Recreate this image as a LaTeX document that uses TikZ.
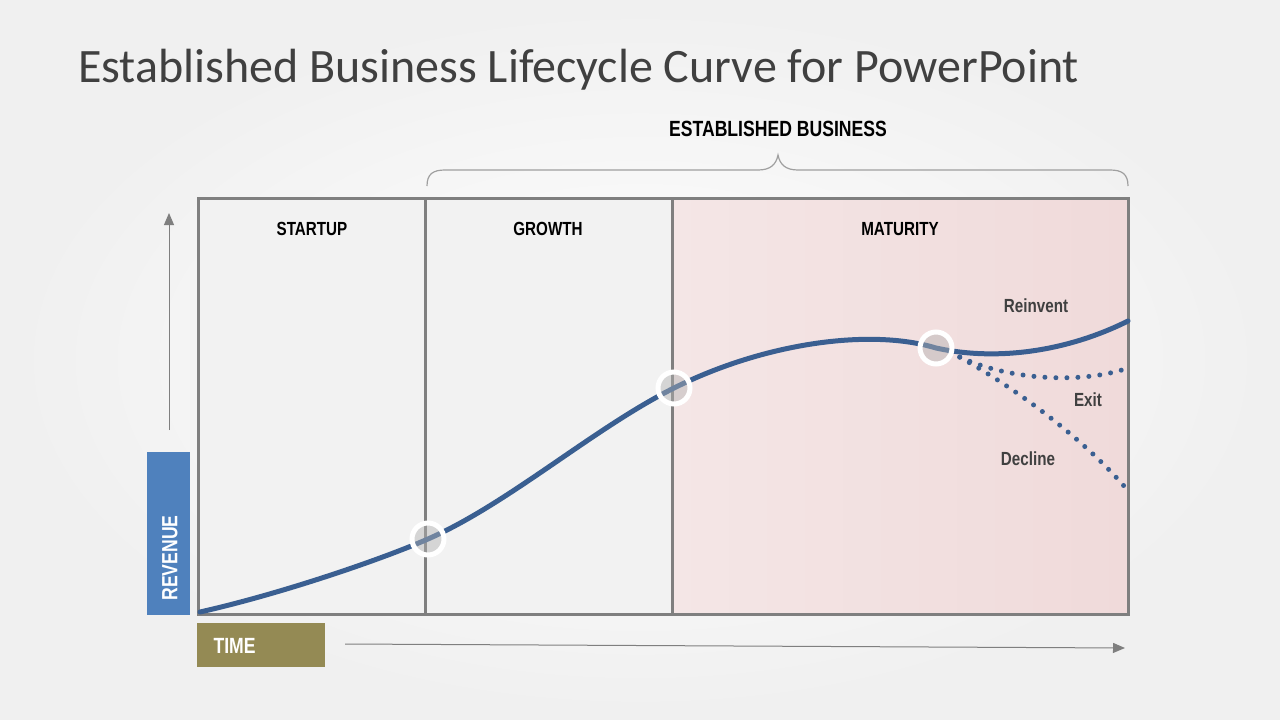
\documentclass[tikz,border=0pt]{standalone}
\usepackage{fontspec}
\setmainfont{Carlito}
\newfontfamily\condfont[FakeStretch=0.8,BoldFont={Liberation Sans Bold}]{Liberation Sans}
\usetikzlibrary{arrows.meta}

\definecolor{titlegray}{HTML}{404040}
\definecolor{framegray}{HTML}{7F7F7F}
\definecolor{curveblue}{HTML}{3A5F91}
\definecolor{revblue}{HTML}{4F81BD}
\definecolor{timeolive}{HTML}{948A54}
\definecolor{panelgray}{HTML}{F2F2F2}
\definecolor{pinkL}{HTML}{F4E6E6}
\definecolor{pinkR}{HTML}{F0DADA}

\tikzset{
  stage/.style={font=\condfont\bfseries\fontsize{19}{22}\selectfont, text=black},
  branch/.style={font=\condfont\bfseries\fontsize{19}{22}\selectfont, text=titlegray},
  lifecurve/.style={curveblue, line width=5pt, line cap=round},
  dotcurve/.style={curveblue, line width=5pt, line cap=round, dash pattern=on 0pt off 11pt},
  milestone/.style={draw=white, line width=5pt, fill=gray!60, fill opacity=0.45},
  axisarrow/.style={framegray, line width=1pt, -{Triangle[length=12pt, width=10pt]}}
}

\begin{document}
\begin{tikzpicture}[x=1pt, y=-1pt]
	% slide background
	\shade[inner color=white, outer color=gray!12] (0,0) rectangle (1280,720);
	\useasboundingbox (0,0) rectangle (1280,720);

	\node[anchor=base west, inner sep=0, text=titlegray, font=\fontsize{48}{52}\selectfont] (title) at (78,82) {Established Business Lifecycle Curve for PowerPoint};

	% panels
	\fill[panelgray] (198,198) rectangle (672,614);
	\shade[left color=pinkL, right color=pinkR] (672,198) rectangle (1128,614);
	\draw[framegray, line width=3pt] (198,198) rectangle (1128,614);
	\draw[framegray, line width=3pt] (425,198) -- (425,614);
	\draw[framegray, line width=3pt] (672,198) -- (672,614);

	\node[stage] (startup) at (312,229) {STARTUP};
	\node[stage] (growth) at (548,229) {GROWTH};
	\node[stage] (maturity) at (900,229) {MATURITY};

	% brace over the established stages
	\draw[gray!75, line width=1.2pt] (427,186) .. controls (427,174) and (433,170) .. (445,170) -- (758,170) .. controls (770,170) and (776,165) .. (778,155) .. controls (780,165) and (786,170) .. (798,170) -- (1110,170) .. controls (1122,170) and (1128,174) .. (1128,186);
	\node[font=\condfont\bfseries\fontsize{22}{24}\selectfont] (established) at (778,129) {ESTABLISHED BUSINESS};

	% milestones
	\coordinate (p0) at (200,612);
	\coordinate (m1) at (428,539);
	\coordinate (m2) at (674,388);
	\coordinate (m3) at (936,348);
	\coordinate (p1) at (1128,321);
	\coordinate (exitend) at (1128,368);
	\coordinate (declineend) at (1124,486);

	% branches after maturity
	\draw[dotcurve] (950,352) .. controls (1000,380) and (1080,385) .. (exitend);
	\draw[dotcurve] (950,352) .. controls (1000,378) and (1075,430) .. (declineend);

	\draw[lifecurve] (p0) .. controls (280,594) and (380,560) .. (m1)
		.. controls (508,504) and (594,428) .. (m2)
		.. controls (764,343) and (870,328) .. (m3)
		.. controls (1000,362) and (1070,350) .. (p1);

	\foreach \m in {m1, m2, m3}
		\draw[milestone] (\m) circle (16);

	\node[branch] (reinvent) at (1036,306) {Reinvent};
	\node[branch] (exit) at (1088,400) {Exit};
	\node[branch] (decline) at (1028,459) {Decline};

	% axes
	\draw[axisarrow] (169,430) -- (169,213);
	\draw[axisarrow] (345,644) -- (1125,648);

	\fill[revblue] (147,452) rectangle (190,615);
	\node[rotate=90, text=white, font=\condfont\bfseries\fontsize{22}{24}\selectfont] (revenue) at (170,558) {REVENUE};
	\fill[timeolive] (197,623) rectangle (325,667);
	\node[anchor=west, text=white, font=\condfont\bfseries\fontsize{22}{24}\selectfont] (time) at (210,646) {TIME};
\end{tikzpicture}
\end{document}
